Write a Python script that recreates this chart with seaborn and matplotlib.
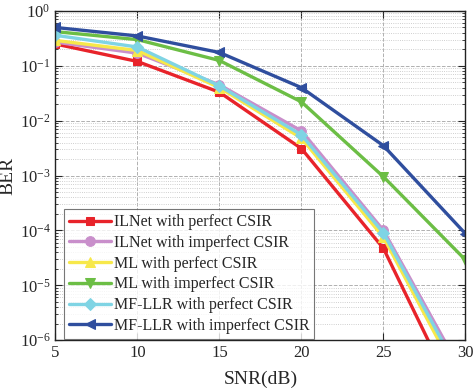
import numpy as np
import pandas as pd
import matplotlib
matplotlib.use('Agg')
import matplotlib.pyplot as plt
import seaborn as sns
from matplotlib.ticker import LogLocator, NullFormatter

sns.set_style("ticks")
plt.rcParams['font.family'] = ['Liberation Serif', 'DejaVu Serif']
plt.rcParams['mathtext.fontset'] = 'stix'

# values
snr = [5, 10, 15, 20, 25, 30]
ilnet_perfect = [0.25, 0.12, 0.033, 0.0031, 4.7e-5, 4e-8]
ilnet_imperfect = [0.27, 0.17, 0.045, 0.0065, 1.0e-4, 2e-7]
ml_perfect = [0.29, 0.19, 0.040, 0.0048, 7.5e-5, 1.2e-7]
ml_imperfect = [0.42, 0.30, 0.125, 0.022, 9.5e-4, 2.9e-5]
mf_perfect = [0.36, 0.22, 0.043, 0.0055, 9e-5, 1.6e-7]
mf_imperfect = [0.50, 0.35, 0.175, 0.040, 3.5e-3, 8.7e-5]

labels = ['ILNet with perfect CSIR', 'ILNet with imperfect CSIR',
          'ML with perfect CSIR', 'ML with imperfect CSIR',
          'MF-LLR with perfect CSIR', 'MF-LLR with imperfect CSIR']
series = [ilnet_perfect, ilnet_imperfect, ml_perfect, ml_imperfect, mf_perfect, mf_imperfect]
colors = ['#E8232A', '#C98FCB', '#F7E84A', '#6CBE45', '#7FD4E4', '#2F4E9E']
markers = ['s', 'o', '^', 'v', 'D', '<']
msizes = [6, 7, 7, 7, 6, 7]

df = pd.concat([pd.DataFrame({'SNR': snr, 'BER': v, 'Scheme': lab})
                for lab, v in zip(labels, series)], ignore_index=True)

fig, ax = plt.subplots(figsize=(4.74, 3.91), dpi=100)
for lab, c, m, ms in zip(labels, colors, markers, msizes):
    sns.lineplot(data=df[df['Scheme'] == lab], x='SNR', y='BER', color=c, marker=m,
                 markersize=ms, markeredgecolor=c, linewidth=2.4, label=lab, ax=ax)

ax.set_yscale('log')
ax.set_xlim(5, 30)
ax.set_ylim(1e-6, 1)
ax.set_xticks([5, 10, 15, 20, 25, 30])
ax.yaxis.set_major_locator(LogLocator(base=10, numticks=10))
ax.yaxis.set_minor_locator(LogLocator(base=10, subs=np.arange(2, 10), numticks=10))
ax.yaxis.set_minor_formatter(NullFormatter())
ax.grid(True, which='major', linestyle='--', color='#b0b0b0', linewidth=0.7)
ax.grid(True, which='minor', linestyle=':', color='#c0c0c0', linewidth=0.6)
ax.tick_params(direction='in', which='both', top=True, right=True, labelsize=12)
ax.tick_params(which='major', length=5)
ax.tick_params(which='minor', length=2.5)
for s in ax.spines.values():
    s.set_color('#222222')
    s.set_linewidth(1.0)
ax.set_xlabel('SNR(dB)', fontsize=14, labelpad=7)
ax.set_ylabel('BER', fontsize=14, labelpad=2)

leg = ax.legend(loc='lower left', bbox_to_anchor=(0.022, 0.004), fontsize=11.5,
                frameon=True, fancybox=False, edgecolor='#555555', borderaxespad=0,
                handlelength=2.6, handletextpad=0.2, labelspacing=0.3, borderpad=0.3)
leg.get_frame().set_linewidth(0.8)

fig.subplots_adjust(left=0.117, right=0.982, top=0.972, bottom=0.13)
fig.savefig('out.png', dpi=100)
